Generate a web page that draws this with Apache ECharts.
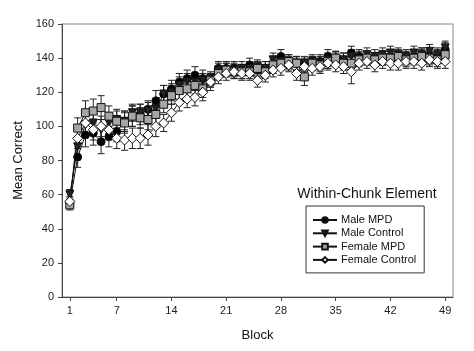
<!DOCTYPE html>
<html>
<head>
<meta charset="utf-8">
<script src="https://cdn.jsdelivr.net/npm/echarts@6/dist/echarts.min.js"></script>
<style>
html, body { margin: 0; padding: 0; background: #fff; }
#chart { width: 474px; height: 351px; }
</style>
</head>
<body>
<div id="chart"></div>
<script>
var blocks = [1,2,3,4,5,6,7,8,9,10,11,12,13,14,15,16,17,18,19,20,21,22,23,24,25,
    26,27,28,29,30,31,32,33,34,35,36,37,38,39,40,41,42,43,44,45,46,47,48,49];
var xTicks = [1, 7, 14, 21, 28, 35, 42, 49];

// values
var maleMpd = [55,82,95,96,91,94,97,103,106,107,110,115,119,122,126,128,130,128,127,134,134,134,132,136,133,
    134,135,141,138,137,136,137,138,141,140,139,143,141,140,139,140,141,140,140,141,142,141,141,145];
var maleMpdErr = [3,6,7,7,7,6,6,6,6,6,5,6,5,5,5,5,5,5,4,4,4,4,4,4,4,
    4,4,4,4,4,4,4,4,4,4,4,4,4,4,4,4,4,4,4,4,4,4,4,4];

var maleControl = [60,88,101,102,98,102,104,103,108,108,109,110,119,120,124,126,126,127,128,133,133,133,134,134,135,
    134,139,138,137,136,137,138,137,139,139,139,141,140,142,141,142,143,142,141,143,142,144,142,146];
var maleControlErr = [3,6,6,6,6,6,6,6,5,5,5,5,5,5,5,5,5,4,4,4,4,4,4,4,4,
    4,4,4,4,4,4,4,4,4,4,4,4,4,4,4,4,4,4,4,4,4,4,4,4];

var femaleMpd = [54,99,108,109,111,106,103,102,106,105,104,107,113,118,121,122,124,122,127,131,133,132,132,132,134,
    132,136,137,138,137,129,137,136,138,140,137,137,139,140,139,140,140,141,139,140,141,140,139,142];
var femaleMpdErr = [3,6,7,7,7,6,6,6,6,6,6,6,5,5,5,5,5,5,4,4,4,4,4,4,4,
    4,4,4,4,4,5,4,4,4,4,4,4,4,4,4,4,4,4,4,4,4,4,4,4];

var femaleControl = [56,93,102,98,100,98,93,92,93,93,95,100,102,108,114,116,117,120,126,129,131,132,131,131,127,
    130,133,134,136,131,135,134,135,137,136,135,132,137,138,136,138,137,137,138,138,137,139,138,138];
var femaleControlErr = [3,6,6,6,6,6,6,6,6,6,6,6,5,5,5,5,5,5,5,4,4,4,4,4,4,
    4,4,4,4,4,4,4,4,4,4,4,7,4,4,4,4,4,4,4,4,4,4,4,4];

var chart = echarts.init(document.getElementById('chart'));

function errorBars(name, vals, errs) {
    return {
        name: name + ' err',
        type: 'custom',
        silent: true,
        data: blocks.map(function (b, i) { return [b, vals[i] - errs[i], vals[i] + errs[i]]; }),
        renderItem: function (params, api) {
            var lo = api.coord([api.value(0), api.value(1)]);
            var hi = api.coord([api.value(0), api.value(2)]);
            var w = 3.5;
            var st = { stroke: '#222', lineWidth: 1 };
            return {
                type: 'group',
                children: [
                    { type: 'line', shape: { x1: lo[0], y1: lo[1], x2: hi[0], y2: hi[1] }, style: st },
                    { type: 'line', shape: { x1: lo[0] - w, y1: lo[1], x2: lo[0] + w, y2: lo[1] }, style: st },
                    { type: 'line', shape: { x1: hi[0] - w, y1: hi[1], x2: hi[0] + w, y2: hi[1] }, style: st }
                ]
            };
        }
    };
}

function lineSeries(name, vals, symbol, size, fill, rotate) {
    return {
        name: name,
        type: 'line',
        data: blocks.map(function (b, i) { return [b, vals[i]]; }),
        symbol: symbol,
        symbolSize: size,
        symbolRotate: rotate || 0,
        showAllSymbol: true,
        lineStyle: { color: '#111', width: 1 },
        itemStyle: { color: fill, borderColor: '#111', borderWidth: 1 },
        emphasis: { disabled: true }
    };
}

var option = {
    animation: false,
    textStyle: { fontFamily: 'Liberation Sans, Arial, sans-serif' },
    grid: { left: 62, right: 21, top: 24, bottom: 54, show: true, borderColor: '#888', borderWidth: 1 },
    title: {
        text: 'Within-Chunk Element',
        left: 362, top: 182, textAlign: 'center',
        textStyle: { fontSize: 14, fontWeight: 'normal', color: '#111' }
    },
    legend: {
        data: ['Male MPD', 'Male Control', 'Female MPD', 'Female Control'],
        orient: 'vertical',
        left: 306, top: 206,
        padding: [8, 8, 7, 6],
        itemGap: 1.3,
        itemWidth: 24,
        itemHeight: 7,
        borderColor: '#333',
        borderWidth: 1,
        borderRadius: 0,
        textStyle: { fontSize: 11, color: '#111', lineHeight: 12, padding: [0, 0, 0, -1] }
    },
    xAxis: {
        type: 'value',
        min: 0, max: 50,
        name: 'Block',
        nameLocation: 'middle',
        nameGap: 32,
        nameTextStyle: { fontSize: 13, color: '#111' },
        splitLine: { show: false },
        axisLine: { lineStyle: { color: '#444' } },
        axisTick: { customValues: xTicks, length: 4, lineStyle: { color: '#444' } },
        axisLabel: { customValues: xTicks, fontSize: 11, color: '#222', margin: 8 }
    },
    yAxis: {
        type: 'value',
        min: 0, max: 160, interval: 20,
        name: 'Mean Correct',
        nameLocation: 'middle',
        nameGap: 36,
        nameTextStyle: { fontSize: 13, color: '#111' },
        splitLine: { show: false },
        axisLine: { show: true, lineStyle: { color: '#444' } },
        axisTick: { show: true, length: 4, lineStyle: { color: '#444' } },
        axisLabel: { fontSize: 11, color: '#222', margin: 8 }
    },
    series: [
        errorBars('Male MPD', maleMpd, maleMpdErr),
        lineSeries('Male MPD', maleMpd, 'circle', 8, '#000'),
        errorBars('Male Control', maleControl, maleControlErr),
        lineSeries('Male Control', maleControl, 'triangle', 8, '#222', 180),
        errorBars('Female MPD', femaleMpd, femaleMpdErr),
        lineSeries('Female MPD', femaleMpd, 'rect', 8, '#a6a6a6'),
        errorBars('Female Control', femaleControl, femaleControlErr),
        lineSeries('Female Control', femaleControl, 'diamond', 10, '#fff')
    ]
};

chart.setOption(option);
</script>
</body>
</html>
